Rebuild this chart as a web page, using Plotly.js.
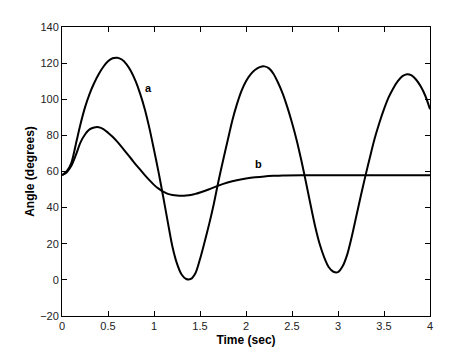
<!DOCTYPE html>
<html>
<head>
<meta charset="utf-8">
<script src="https://cdn.plot.ly/plotly-3.0.1.min.js"></script>
<style>html,body{margin:0;padding:0;background:#fff;}#chart{width:474px;height:355px;}</style>
</head>
<body>
<div id="chart"></div>
<script>
var timeA = [0,0.05,0.1,0.15,0.2,0.25,0.3,0.35,0.4,0.45,0.5,0.55,0.6,0.65,0.7,0.75,0.8,0.85,0.9,0.95,1.0,1.05,1.1,1.15,1.2,1.25,1.3,1.35,1.4,1.45,1.5,1.55,1.6,1.65,1.7,1.75,1.8,1.85,1.9,1.95,2.0,2.05,2.1,2.15,2.2,2.25,2.3,2.35,2.4,2.45,2.5,2.55,2.6,2.65,2.7,2.75,2.8,2.85,2.9,2.95,3.0,3.05,3.1,3.15,3.2,3.25,3.3,3.35,3.4,3.45,3.5,3.55,3.6,3.65,3.7,3.75,3.8,3.85,3.9,3.95,4.0];
var angleA = [58,60,64.5,75,86,95.5,103,109,114,118,121,122.7,123,122,119.5,115.5,110,103,94.5,84,72,59.5,46,32,18.5,9,3,0.5,0.5,3.7,11.5,21,31,42,54.5,66,77,88,97,104.5,110,113.8,116.3,117.8,118.2,117.1,114,109,103,95.5,87,77.5,66.5,54.5,42,30,20,12.5,7,4.5,4.3,7.5,14,24,35.5,47,58,68.5,78.5,87,94.5,101,106,110,112.8,113.9,113.2,110.8,107,101.8,94.5];
var timeB = [0,0.05,0.1,0.15,0.2,0.25,0.3,0.35,0.4,0.45,0.5,0.55,0.6,0.65,0.7,0.75,0.8,0.85,0.9,0.95,1.0,1.05,1.1,1.15,1.2,1.25,1.3,1.35,1.4,1.45,1.5,1.6,1.7,1.8,1.9,2.0,2.1,2.2,2.3,2.4,2.6,3.0,3.5,4.0];
var angleB = [58,59.5,63,69,76,80.5,83.3,84.4,84.5,83.5,81.5,79.2,76.5,73.5,70.3,67.2,64,61,58,55.2,52.6,50.5,48.8,47.6,47,46.7,46.6,46.7,47,47.6,48.4,50.2,52.2,53.9,55.2,56.1,56.8,57.3,57.6,57.8,57.9,57.9,57.9,57.9];
var xTicks = [0,0.5,1,1.5,2,2.5,3,3.5,4];
var xTickText = ['0','0.5','1','1.5','2','2.5','3','3.5','4'];
var yTicks = [-20,0,20,40,60,80,100,120,140];
var labelText = ['a','b'];
var labelX = [0.94,2.14];
var labelY = [106,64];

var lineStyle = {color:'#000', width:2, shape:'spline', smoothing:0.8};
var traces = [
  {x:timeA, y:angleA, mode:'lines', line:lineStyle, hoverinfo:'skip'},
  {x:timeB, y:angleB, mode:'lines', line:lineStyle, hoverinfo:'skip'}
];
var fontFam = 'Liberation Sans, Arial, sans-serif';
var annotations = labelText.map(function(t,i){
  return {x:labelX[i], y:labelY[i], text:'<b>'+t+'</b>', showarrow:false, font:{family:fontFam,size:11,color:'#000'}};
});
var axisBase = {
  showgrid:false, zeroline:false, showline:true, linecolor:'#000', linewidth:1,
  mirror:'ticks', ticks:'inside', ticklen:5, tickcolor:'#000', tickwidth:1,
  tickfont:{family:fontFam, size:11, color:'#222'}
};
var layout = {
  width:474, height:355,
  margin:{l:62, r:44, t:27, b:39, pad:0},
  paper_bgcolor:'#fff', plot_bgcolor:'#fff',
  showlegend:false,
  xaxis:Object.assign({}, axisBase, {range:[0,4], tickvals:xTicks, ticktext:xTickText,
    title:{text:'<b>Time (sec)</b>', font:{family:fontFam,size:12,color:'#000'}, standoff:4}}),
  yaxis:Object.assign({}, axisBase, {range:[-20,140], tickvals:yTicks,
    title:{text:'<b>Angle (degrees)</b>', font:{family:fontFam,size:12,color:'#000'}, standoff:2}}),
  annotations:annotations
};
Plotly.newPlot('chart', traces, layout, {staticPlot:true, displayModeBar:false});
</script>
</body>
</html>
